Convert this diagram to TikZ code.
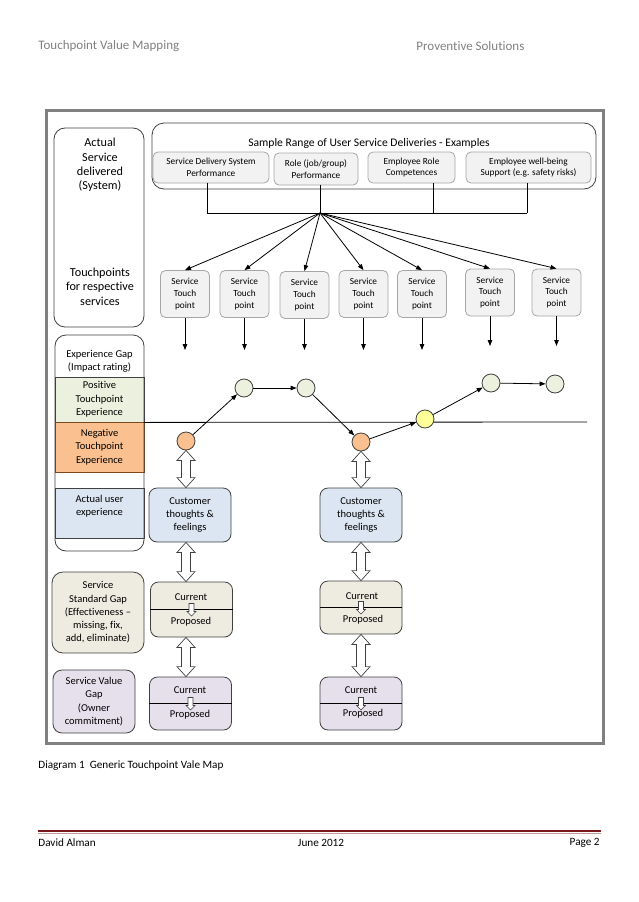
\documentclass[tikz,border=0pt]{standalone}
\usepackage{fontspec}
\setmainfont{Carlito}[Ligatures=NoCommon]
\usetikzlibrary{arrows.meta,calc}

\definecolor{posgreen}{HTML}{EBF1DE}
\definecolor{negorange}{HTML}{FAC090}
\definecolor{negline}{HTML}{7A4A1E}
\definecolor{userblue}{HTML}{DCE6F2}
\definecolor{stdbeige}{HTML}{EEECE1}
\definecolor{vallilac}{HTML}{E6E0EC}
\definecolor{tpgray}{HTML}{F2F2F2}
\definecolor{neutyellow}{HTML}{FFFF99}
\definecolor{framegray}{HTML}{808080}
\definecolor{footred}{HTML}{7B1A1C}

\newcommand{\pagefont}{\fontsize{13}{15.5}\selectfont}
\newcommand{\footfont}{\fontsize{11.2}{14}\selectfont}
\newcommand{\lanefont}{\fontsize{12.2}{14.4}\selectfont}
\newcommand{\bandfont}{\fontsize{10.5}{13.3}\selectfont}
\newcommand{\tpfont}{\fontsize{9.3}{11.8}\selectfont}
\newcommand{\titlefont}{\fontsize{11.6}{14}\selectfont}

% hollow two-headed block arrow from top point #1 to bottom point #2
\newcommand{\hollowpair}[2]{%
  \draw[black!75, fill=white, line width=0.7pt]
    (#1) -- ++(9,10) -- ++(-4.5,0) -- ($(#2)+(4.5,-10)$) -- ++(4.5,0) -- (#2)
    -- ++(-9,-10) -- ++(4.5,0) -- ($(#1)+(-4.5,10)$) -- ++(-4.5,0) -- cycle;}
% small hollow down arrow centred on #1
\newcommand{\hollowtip}[1]{%
  \draw[black!75, fill=white, line width=0.6pt]
    ($(#1)+(-2.5,-6)$) -- ++(5,0) -- ++(0,8) -- ++(2,0) -- ($(#1)+(0,6.5)$)
    -- ($(#1)+(-4.5,2)$) -- ++(2,0) -- cycle;}

\tikzset{
  lane/.style={draw=black!75, rounded corners=11pt, inner sep=0pt, align=center, font=\bandfont},
  lbl/.style={align=center, inner sep=0pt, font=\bandfont},
  deliv/.style={draw=black!35, fill=tpgray, rounded corners=5pt, align=center, inner sep=0pt, font=\tpfont},
  tpbox/.style={deliv, minimum width=49pt, minimum height=47pt},
  band/.style={minimum width=89pt, inner sep=0pt, align=center, font=\bandfont},
  userbox/.style={draw=black!75, rounded corners=8pt, minimum width=82pt, inner sep=0pt, align=center, font=\bandfont},
  dot/.style={circle, draw=black!75, minimum size=18pt, inner sep=0pt},
  pagetext/.style={inner sep=0pt, font=\pagefont}
}

\begin{document}
\begin{tikzpicture}[x=1pt, y=-1pt, line width=0.8pt, >={Triangle[length=6pt,width=4.5pt]}]
        % Page
        \useasboundingbox (0,0) rectangle (638,902);
        \node[pagetext, anchor=west, text=black!50] (hdrL) at (38,46) {Touchpoint Value Mapping};
        \node[pagetext, anchor=west, text=black!50] (hdrR) at (416,46) {Proventive Solutions};
        \draw[framegray, line width=3pt] (46.5,110.5) rectangle (603.5,743);

        % Left column
        \node[lane, minimum width=90pt, minimum height=199pt] (sysbox) at (99,227.5) {};
        \node[lbl, font=\lanefont] (syslbl) at (100,165) {Actual\\Service\\delivered\\(System)};
        \node[lbl, font=\lanefont] (tplbl) at (100,286.5) {Touchpoints\\for respective\\services};

        % Experience gap bands
        \node[lbl] (gaplbl) at (99.5,361) {Experience Gap\\(Impact rating)};
        \node[band, draw=black!75, fill=posgreen, minimum height=45pt] (posband) at (99.5,399.5) {Positive\\Touchpoint\\Experience};
        \node[band, draw=negline, fill=negorange, minimum height=50pt] (negband) at (99.5,447) {Negative\\Touchpoint\\Experience};
        \node[band, draw=black!75, fill=userblue, minimum height=50pt] (userband) at (99.5,513) {};
        \node[lbl] (userlbl) at (99.5,506.5) {Actual user\\experience};
        \node[lane, minimum width=89pt, minimum height=216pt] (gapbox) at (99.5,443) {};
        \coordinate (axisend) at (587,422);
        \draw (posband.south east) -- (axisend);

        % Gap boxes
        \node[lane, fill=stdbeige, minimum width=92pt, minimum height=81pt] (stdgap) at (98,612.5) {Service\\Standard Gap\\(Effectiveness --\\missing, fix,\\add, eliminate)};
        \node[lane, fill=vallilac, minimum width=82pt, minimum height=63pt, rounded corners=9pt] (valgap) at (94,701.5) {Service Value\\Gap\\(Owner\\commitment)};

        % Sample deliveries
        \node[lane, rounded corners=12pt, minimum width=444pt, minimum height=66pt] (range) at (374,156) {};
        \node[inner sep=0pt, font=\titlefont] (rangettl) at (369,143) {Sample Range of User Service Deliveries - Examples};
        \node[deliv, minimum width=116pt, minimum height=31pt] (sd1) at (211,167.5) {Service Delivery System\\Performance};
        \node[deliv, minimum width=84pt, minimum height=32pt] (sd2) at (316,169) {Role (job/group)\\Performance};
        \node[deliv, minimum width=87pt, minimum height=31pt] (sd3) at (411.5,167.5) {Employee Role\\Competences};
        \node[deliv, minimum width=125pt, minimum height=31pt] (sd4) at (528.5,167.5) {Employee well-being\\Support (e.g. safety risks)};

        % Bus to touchpoints
        \coordinate (j1) at (207,213);
        \coordinate (j2) at (320,213);
        \coordinate (j3) at (433,213);
        \coordinate (j4) at (527,213);
        \draw (j1 |- sd1.south) -- (j1) -- (j4);
        \draw (j2 |- sd2.south) -- (j2);
        \draw (j3 |- sd3.south) -- (j3);
        \draw (j4 |- sd4.south) -- (j4);

        % Touchpoints
        \node[tpbox] (tp1) at (185,294) {Service\\Touch\\point};
        \node[tpbox] (tp2) at (244.5,294) {Service\\Touch\\point};
        \node[tpbox] (tp3) at (304.5,295) {Service\\Touch\\point};
        \node[tpbox] (tp4) at (363.5,294) {Service\\Touch\\point};
        \node[tpbox] (tp5) at (422,294) {Service\\Touch\\point};
        \node[tpbox] (tp6) at (490,292.5) {Service\\Touch\\point};
        \node[tpbox] (tp7) at (556.5,292.5) {Service\\Touch\\point};
        \draw[->] (j2) -- (tp1.north);
        \draw[->] (j2) -- (tp2.north);
        \draw[->] (j2) -- (tp3.north);
        \draw[->] (j2) -- (tp4.north);
        \draw[->] (j2) -- (tp5.north);
        \draw[->] (j2) -- (tp6.north);
        \draw[->] (j2) -- (tp7.north);

        \coordinate (e1) at (185,350);
        \coordinate (e2) at (244.5,350);
        \coordinate (e3) at (304.5,350);
        \coordinate (e4) at (363.5,350);
        \coordinate (e5) at (422,350);
        \coordinate (e6) at (490,346);
        \coordinate (e7) at (556.5,346);
        \draw[->] (tp1) -- (e1);
        \draw[->] (tp2) -- (e2);
        \draw[->] (tp3) -- (e3);
        \draw[->] (tp4) -- (e4);
        \draw[->] (tp5) -- (e5);
        \draw[->] (tp6) -- (e6);
        \draw[->] (tp7) -- (e7);

        % Experience path
        \node[dot, fill=negorange] (c1) at (186,441) {};
        \node[dot, fill=posgreen] (c2) at (244,388) {};
        \node[dot, fill=posgreen] (c3) at (306,388) {};
        \node[dot, fill=negorange] (c4) at (361,442) {};
        \node[dot, fill=neutyellow] (c5) at (425,419) {};
        \node[dot, fill=posgreen] (c6) at (491,383) {};
        \node[dot, fill=posgreen] (c7) at (555,384) {};
        \draw[->] (c1) -- (c2);
        \draw[->] (c2) -- (c3);
        \draw[->] (c3) -- (c4);
        \draw[->] (c4) -- (c5);
        \draw[->] (c5) -- (c6);
        \draw[->] (c6) -- (c7);

        % User experience and gaps, first touchpoint
        \node[userbox, fill=userblue, minimum height=54pt] (cust1) at (190,515) {Customer\\thoughts \&\\feelings};
        \node[userbox, fill=stdbeige, minimum height=55pt] (std1) at (191.5,609.5) {};
        \node[userbox, fill=vallilac, minimum height=53pt] (val1) at (190.5,703.5) {};
        \draw (std1.west) -- (std1.east);
        \draw (val1.west) -- (val1.east);
        \node[lbl] (std1cur) at (191,597) {Current};
        \node[lbl] (std1pro) at (191,622) {Proposed};
        \node[lbl] (val1cur) at (190,690) {Current};
        \node[lbl] (val1pro) at (190,715) {Proposed};
        \hollowtip{std1.center}
        \hollowtip{val1.center}
        \hollowpair{c1.south}{c1.south |- cust1.north}
        \hollowpair{c1.south |- cust1.south}{c1.south |- std1.north}
        \hollowpair{c1.south |- std1.south}{c1.south |- val1.north}

        % User experience and gaps, second touchpoint
        \node[userbox, fill=userblue, minimum height=54pt] (cust2) at (361,515) {Customer\\thoughts \&\\feelings};
        \node[userbox, fill=stdbeige, minimum height=53pt] (std2) at (361,607.5) {};
        \node[userbox, fill=vallilac, minimum height=53pt] (val2) at (361,703.5) {};
        \draw (std2.west) -- (std2.east);
        \draw (val2.west) -- (val2.east);
        \node[lbl] (std2cur) at (362,596) {Current};
        \node[lbl] (std2pro) at (363,620) {Proposed};
        \node[lbl] (val2cur) at (361,690) {Current};
        \node[lbl] (val2pro) at (363,714) {Proposed};
        \hollowtip{std2.center}
        \hollowtip{val2.center}
        \hollowpair{c4.south}{cust2.north}
        \hollowpair{cust2.south}{std2.north}
        \hollowpair{std2.south}{val2.north}

        % Caption and footer
        \node[pagetext, anchor=west, font=\footfont] (caption) at (38,766) {Diagram 1\ \ Generic Touchpoint Vale Map};
        \coordinate (footL) at (38,831);
        \coordinate (footR) at (601,831);
        \draw[footred!45, line width=1pt] ($(footL)+(0,2.5)$) -- ($(footR)+(0,2.5)$);
        \draw[footred, line width=2.6pt] (footL) -- (footR);
        \node[pagetext, anchor=west, font=\footfont] (author) at (38,843) {David Alman};
        \node[pagetext, font=\footfont] (date) at (321,843) {June 2012};
        \node[pagetext, anchor=east, font=\footfont] (page) at (600,843) {Page 2};
\end{tikzpicture}
\end{document}
